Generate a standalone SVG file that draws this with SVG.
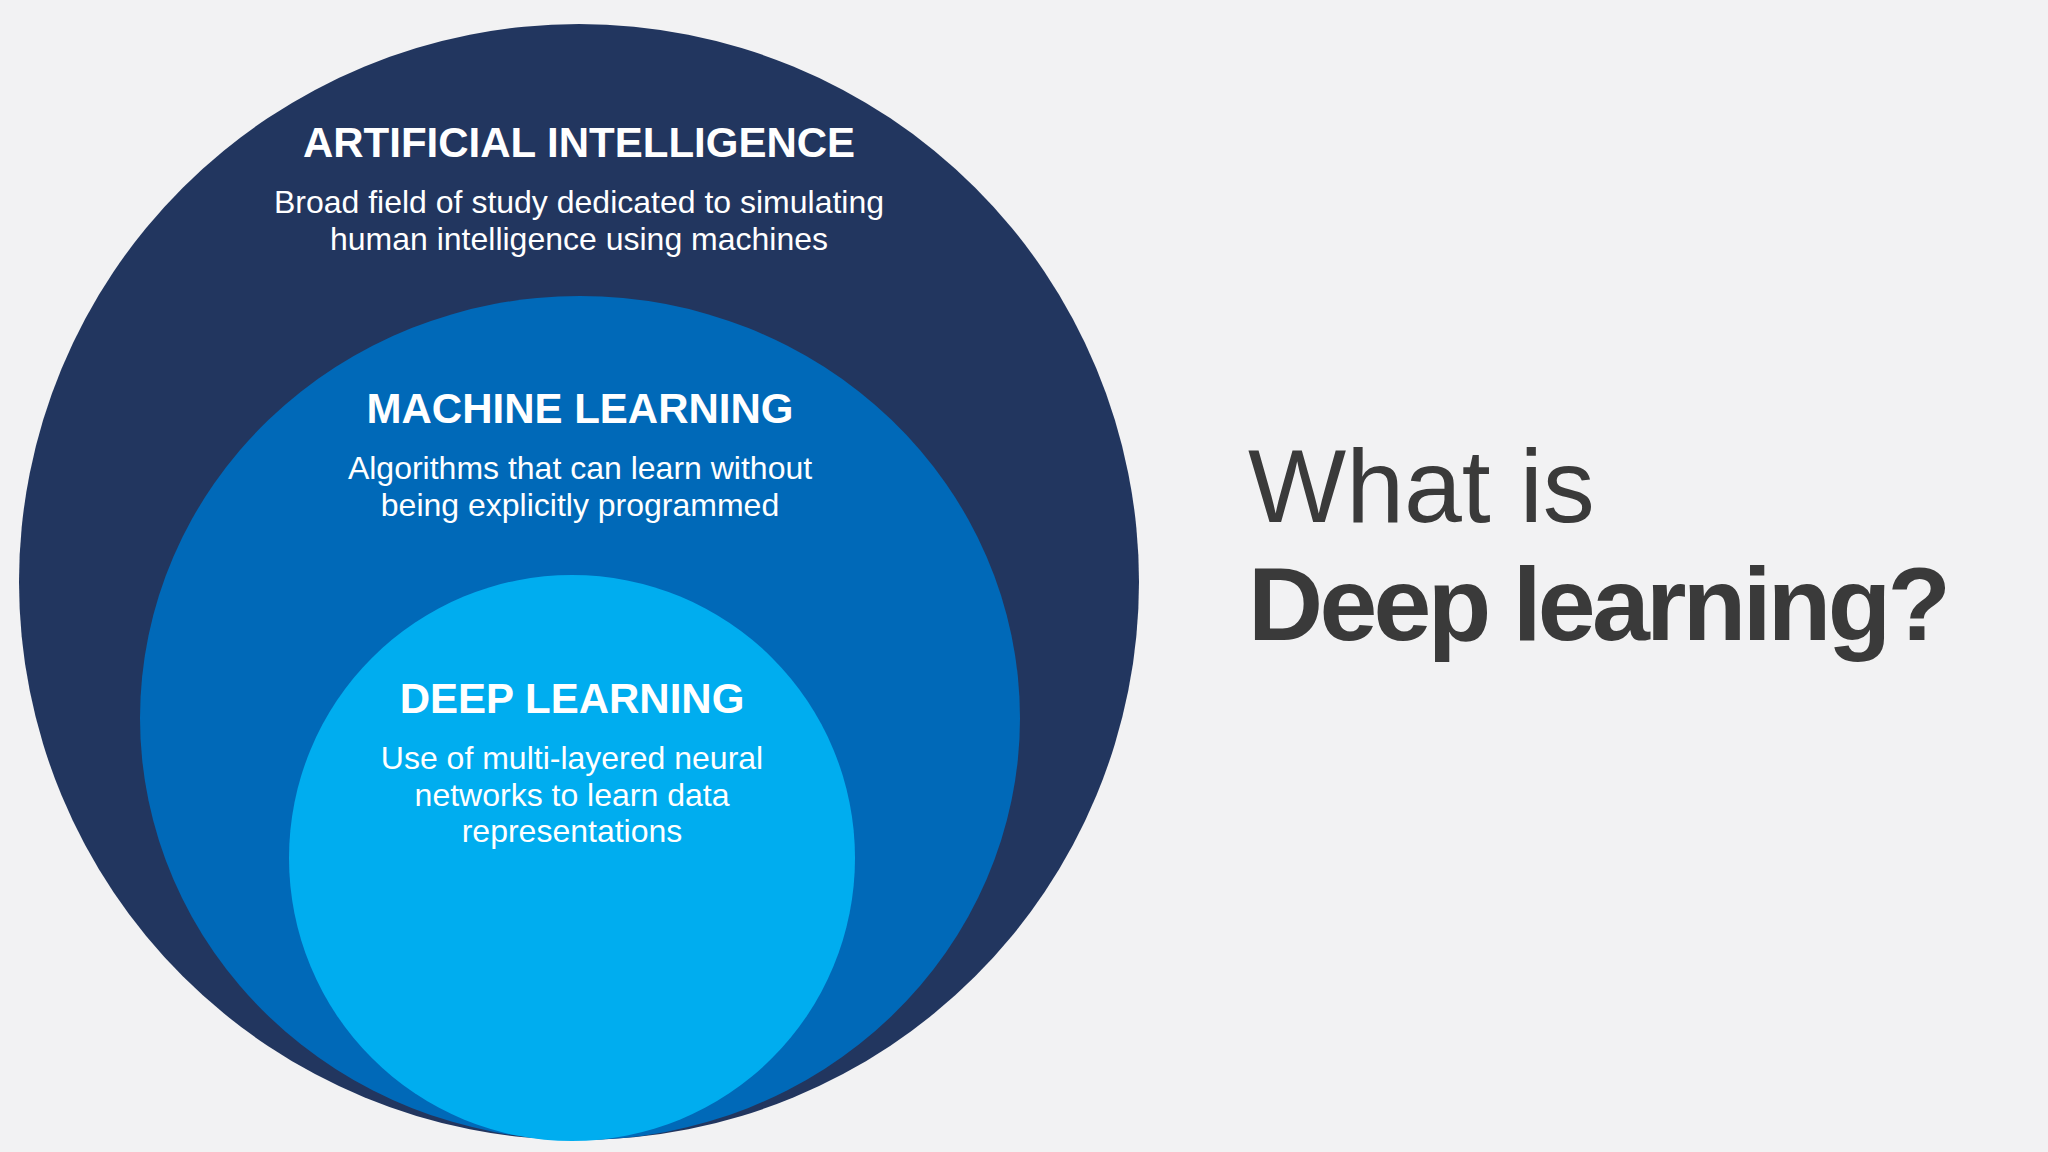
<svg xmlns="http://www.w3.org/2000/svg" width="2048" height="1152" viewBox="0 0 2048 1152">
<style>
text{font-family:"Liberation Sans",Arial,sans-serif;fill:#fff;text-anchor:middle}
.h{font-weight:bold;font-size:42px}
.s{font-size:32px}
.t{fill:#3a3a3a;text-anchor:start;font-size:104px}
</style>
<rect width="2048" height="1152" fill="#f2f2f3"/>
<g id="ai"><ellipse cx="579" cy="582" rx="560" ry="558" fill="#22365f"/>
<text class="h" x="579" y="157">ARTIFICIAL INTELLIGENCE</text>
<text class="s" x="579" y="213">Broad field of study dedicated to simulating</text>
<text class="s" x="579" y="250">human intelligence using machines</text></g>
<g id="ml"><ellipse cx="580" cy="718" rx="440" ry="422" fill="#0069b8"/>
<text class="h" x="580" y="423">MACHINE LEARNING</text>
<text class="s" x="580" y="479">Algorithms that can learn without</text>
<text class="s" x="580" y="516">being explicitly programmed</text></g>
<g id="dl"><ellipse cx="572" cy="858" rx="283" ry="283" fill="#00adef"/>
<text class="h" x="572" y="713">DEEP LEARNING</text>
<text class="s" x="572" y="769">Use of multi-layered neural</text>
<text class="s" x="572" y="806">networks to learn data</text>
<text class="s" x="572" y="842">representations</text></g>
<g id="title">
<text class="t" x="1248" y="522">What is</text>
<text class="t" x="1248" y="640" font-weight="bold" textLength="703">Deep learning?</text></g>
<g id="connectors"/>
</svg>
